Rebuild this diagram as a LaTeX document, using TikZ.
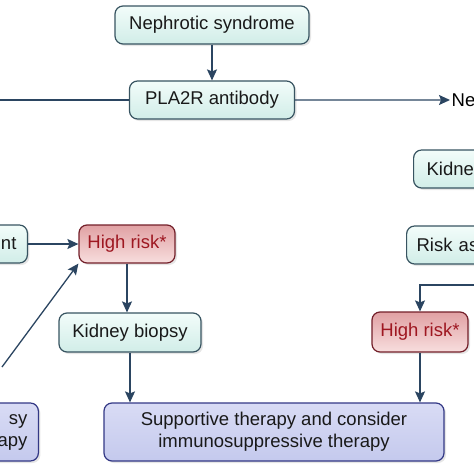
\documentclass[tikz,border=0pt]{standalone}
\usepackage{fontspec}
\setmainfont{Liberation Sans}
\usepackage{xcolor}
\usepackage{tikz}
\usetikzlibrary{positioning, shapes, calc, arrows.meta, shadows}
\definecolor{mintlight}{rgb}{0.95, 0.99, 0.98}
\definecolor{mintdark}{rgb}{0.82, 0.93, 0.91}
\definecolor{slateline}{rgb}{0.22, 0.33, 0.38}
\definecolor{navyarrow}{rgb}{0.17, 0.27, 0.38}
\definecolor{pinktop}{rgb}{0.88, 0.63, 0.64}
\definecolor{pinkbottom}{rgb}{0.97, 0.87, 0.87}
\definecolor{wineline}{rgb}{0.45, 0.12, 0.16}
\definecolor{winetext}{rgb}{0.62, 0.09, 0.13}
\definecolor{lavtop}{rgb}{0.85, 0.86, 0.96}
\definecolor{lavbottom}{rgb}{0.77, 0.79, 0.93}
\definecolor{indigoline}{rgb}{0.2, 0.22, 0.52}

\begin{document}
\begin{tikzpicture}[x=1pt, y=-1pt, every node/.style={font=\fontsize{18.5}{22}\selectfont}]
	\tikzstyle{mintbox}=[draw=slateline, line width=1.2pt, rounded corners=8pt, top color=mintlight, bottom color=mintdark, text=black!90, minimum height=38pt, inner sep=0pt, drop shadow={opacity=0.2, shadow xshift=2pt, shadow yshift=-2pt}]
	\tikzstyle{riskbox}=[draw=wineline, line width=1.2pt, rounded corners=8pt, top color=pinktop, bottom color=pinkbottom, text=winetext, minimum height=38pt, inner sep=0pt, drop shadow={opacity=0.2, shadow xshift=2pt, shadow yshift=-2pt}]
	\tikzstyle{suppbox}=[draw=indigoline, line width=1.2pt, rounded corners=8pt, top color=lavtop, bottom color=lavbottom, text=black!90, inner sep=0pt, drop shadow={opacity=0.2, shadow xshift=2pt, shadow yshift=-2pt}]
	\tikzstyle{link}=[draw=navyarrow, line width=1.3pt, -{Stealth[length=11pt, width=10pt, inset=2pt]}]
	
	\useasboundingbox (0,0) rectangle (474,474);
	\clip (0,0) rectangle (474,474);
	
	%% top of the tree
	\node [mintbox, minimum width=194pt] (nephro) at (212,25) {Nephrotic syndrome};
	\node [mintbox, minimum width=165pt, below=35.8pt of nephro] (pla) {PLA2R antibody};
	\coordinate (plaL) at (0,100);
	\node [anchor=west, inner sep=1.5pt] (neg) at (450,100) {Ne};
	
	%% right branch
	\node [mintbox, anchor=west, text width=100pt, align=left, inner xsep=13pt] (kidR) at (413,169) {Kidne};
	\node [mintbox, anchor=west, text width=100pt, align=left, inner xsep=10pt] (riskR) at (406,245) {Risk as};
	\coordinate (riskIn) at (474,285);
	\node [riskbox, minimum width=96pt, minimum height=40pt] (hiR) at (420,332) {High risk*};
	
	%% left branch
	\node [mintbox, anchor=east, text width=60pt, align=right, inner xsep=11pt] (ntL) at (28,244) {nt};
	\node [riskbox, minimum width=96pt] (hiL) at (127,244) {High risk*};
	\node [mintbox, minimum width=142pt, minimum height=39pt] (kidL) at (130,332.5) {Kidney biopsy};
	\coordinate (diagS) at (2,367);
	
	%% bottom row
	\node [suppbox, minimum width=340pt, minimum height=58pt, align=center] (supp) at (274,432) {Supportive therapy and consider\\immunosuppressive therapy};
	\node [suppbox, anchor=east, minimum height=58pt, text width=80pt, align=right, inner xsep=11pt] (botL) at (39,432) {sy\hspace{7pt}\\apy};
	
	\draw [link] (nephro) -- (pla);
	\draw [navyarrow, line width=1.3pt] (plaL |- pla.west) -- (pla.west);
	\draw [link] (pla.east) -- (neg.west);
	\draw [link] (riskIn) -| (hiR);
	\draw [link] (ntL) -- (hiL);
	\draw [link] (hiL.south) -- (hiL.south |- kidL.north);
	\draw [link] (kidL) -- (kidL |- supp.north);
	\draw [link] (hiR) -- (hiR |- supp.north);
	\draw [link] (diagS) -- (hiL.south west);
\end{tikzpicture}
\end{document}
